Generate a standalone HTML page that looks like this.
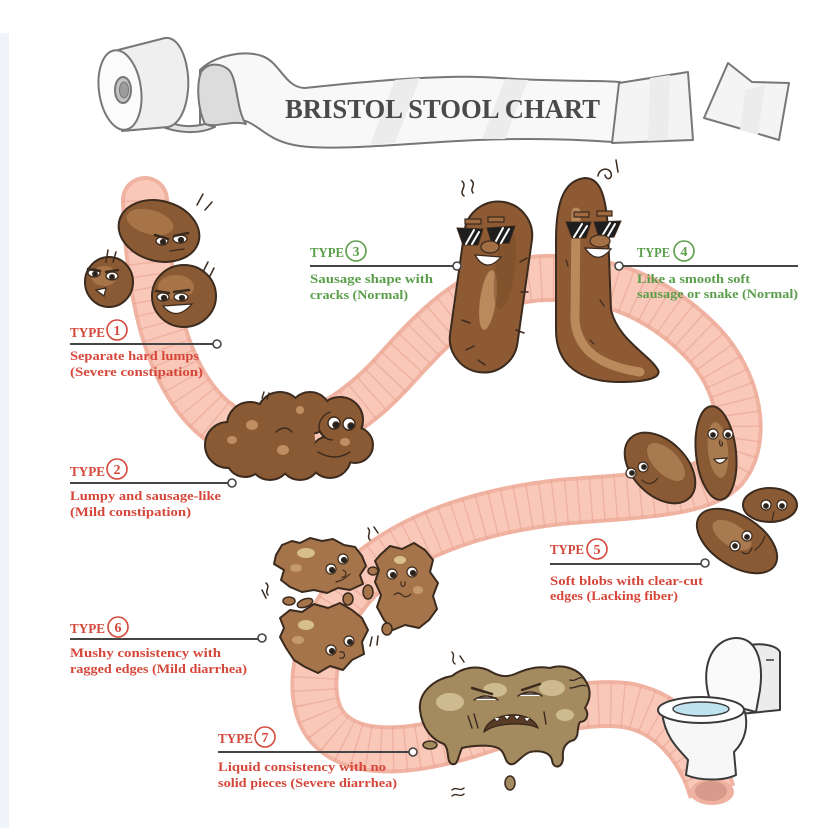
<!DOCTYPE html>
<html><head><meta charset="utf-8"><style>
html,body{margin:0;padding:0;background:#fff;}
svg{display:block}
</style></head><body>
<svg width="833" height="828" viewBox="0 0 833 828" xmlns="http://www.w3.org/2000/svg" font-family="'Liberation Serif', serif">
<rect width="833" height="828" fill="#fff"/>
<rect x="0" y="33" width="9" height="795" fill="#f1f4f8"/>

<!-- ===== BANNER ===== -->
<g stroke="#777" stroke-width="2" stroke-linejoin="round">
  <path d="M200,70 C215,55 245,50 262,56 C280,62 285,88 305,88 C380,80 450,74 500,78 C560,82 600,80 620,82 L613,142 C560,138 500,138 440,142 C380,146 330,150 300,146 C270,142 262,128 248,122 C235,116 222,128 200,125 Z" fill="#f8f8f8"/>
  <path d="M201,72 C207,63 220,62 229,70 C238,80 236,110 246,124 C232,120 216,128 205,124 C198,110 196,86 201,72 Z" fill="#dcdcdc"/>
  <path d="M160,126 C180,134 200,134 215,127 L205,124 C190,128 175,126 165,120 Z" fill="#e4e4e4"/>
  <path d="M118,50 L165,38 C182,36 190,68 188,90 C186,112 178,125 168,127 L122,131 Z" fill="#efefef"/>
  <ellipse cx="120" cy="90" rx="21" ry="40" transform="rotate(-8 120 90)" fill="#fbfbfb"/>
  <ellipse cx="123" cy="90" rx="8" ry="13" fill="#c4c4c4"/>
  <ellipse cx="124" cy="90" rx="4.5" ry="8" fill="#9c9c9c" stroke-width="1"/>
  <path d="M619,83 L688,72 L693,140 L612,143 Z" fill="#f4f4f4"/>
  <path d="M728,63 L752,82 L789,83 L779,140 L752,132 L704,118 Z" fill="#f4f4f4"/>
</g>
<g fill="#ececec">
  <path d="M395,80 L420,78 L395,143 L370,145 Z"/>
  <path d="M505,79 L528,80 L505,139 L482,139 Z"/>
  <path d="M650,78 L670,75 L668,140 L648,141 Z"/>
  <path d="M745,90 L765,85 L758,135 L740,130 Z"/>
</g>
<text x="285" y="118" font-size="27" font-weight="bold" fill="#4a4a4a" textLength="315" lengthAdjust="spacingAndGlyphs">BRISTOL STOOL CHART</text>

<!-- ===== INTESTINE TUBE ===== -->
<g fill="none">
  <circle cx="145" cy="200" r="24" fill="#f0b3a2"/>
  <path d="M145,200 C148,300 170,400 235,432 C290,455 350,420 395,370 C440,320 480,280 545,278 C610,276 660,300 700,340 C740,380 750,440 725,470 C700,495 640,495 560,502 C470,512 400,540 360,580 C315,625 300,700 330,730 C360,760 420,750 470,735 C530,715 580,700 625,705 C670,712 700,750 712,792" stroke="#f0b3a2" stroke-width="48"/>
  <circle cx="145" cy="200" r="20" fill="#f9c8b9"/>
  <path d="M145,200 C148,300 170,400 235,432 C290,455 350,420 395,370 C440,320 480,280 545,278 C610,276 660,300 700,340 C740,380 750,440 725,470 C700,495 640,495 560,502 C470,512 400,540 360,580 C315,625 300,700 330,730 C360,760 420,750 470,735 C530,715 580,700 625,705 C670,712 700,750 712,792" stroke="#f9c8b9" stroke-width="40"/>
  <path d="M145,200 C148,300 170,400 235,432 C290,455 350,420 395,370 C440,320 480,280 545,278 C610,276 660,300 700,340 C740,380 750,440 725,470 C700,495 640,495 560,502 C470,512 400,540 360,580 C315,625 300,700 330,730 C360,760 420,750 470,735 C530,715 580,700 625,705 C670,712 700,750 712,792" stroke="#e89f8c" stroke-width="46" stroke-dasharray="1.4 11" opacity="0.55"/>
  <ellipse cx="712" cy="792" rx="22" ry="13" fill="#efb2a1"/>
  <ellipse cx="711" cy="791" rx="16" ry="10" fill="#d89a8a"/>
</g>

<!-- ===== TYPE 1 ===== -->
<g stroke="#3b2a1e" stroke-width="2" stroke-linecap="round">
  <ellipse cx="159" cy="231" rx="41" ry="30" transform="rotate(15 159 231)" fill="#8a5a34"/>
  <ellipse cx="150" cy="222" rx="24" ry="12" transform="rotate(15 150 222)" fill="#a77447" stroke="none"/>
  <ellipse cx="109" cy="282" rx="24" ry="25" fill="#8a5a34"/>
  <ellipse cx="104" cy="276" rx="13" ry="10" fill="#a77447" stroke="none"/>
  <ellipse cx="184" cy="296" rx="32" ry="31" fill="#8a5a34"/>
  <ellipse cx="176" cy="287" rx="18" ry="12" fill="#a77447" stroke="none"/>
  <!-- faces -->
  <g stroke-width="1.3">
    <ellipse cx="162" cy="241" rx="6" ry="4" fill="#fff"/><circle cx="163" cy="242" r="2.5" fill="#222"/>
    <ellipse cx="180" cy="239" rx="7" ry="4" fill="#fff"/><circle cx="181" cy="240" r="2.5" fill="#222"/>
    <path d="M155,235 L168,239 M174,236 L188,233" stroke-width="2.5"/>
    <path d="M170,251 L184,249" fill="none"/>
    <ellipse cx="94" cy="273" rx="6" ry="4" fill="#fff"/><circle cx="95" cy="274" r="2.3" fill="#222"/>
    <ellipse cx="112" cy="276" rx="6" ry="4" fill="#fff"/><circle cx="112" cy="277" r="2.3" fill="#222"/>
    <path d="M88,269 L100,271 M106,272 L118,270" stroke-width="2.5"/>
    <path d="M96,290 L106,288 L104,296 Z" fill="#fff"/>
    <ellipse cx="163" cy="297" rx="6" ry="4" fill="#fff"/><circle cx="164" cy="298" r="2.5" fill="#222"/>
    <ellipse cx="181" cy="297" rx="7" ry="4" fill="#fff"/><circle cx="182" cy="298" r="2.5" fill="#222"/>
    <path d="M156,291 L169,293 M174,292 L189,290" stroke-width="2.5"/>
    <path d="M163,306 Q176,322 192,304 Z" fill="#fff"/>
  </g>
  <path d="M197,205 L203,194 M205,210 L212,202 M106,262 L108,250 M113,262 L116,252 M203,272 L208,262 M210,276 L214,268" fill="none" stroke-width="1.5"/>
</g>

<!-- ===== TYPE 2 ===== -->
<g>
  <g fill="#8a5a34" stroke="#3b2a1e" stroke-width="4">
    <circle cx="228" cy="445" r="22"/><circle cx="250" cy="425" r="22"/><circle cx="280" cy="415" r="22"/>
    <circle cx="310" cy="413" r="20"/><circle cx="340" cy="420" r="22"/><circle cx="355" cy="445" r="17"/>
    <circle cx="330" cy="457" r="20"/><circle cx="300" cy="459" r="20"/><circle cx="270" cy="459" r="20"/>
    <circle cx="245" cy="458" r="18"/>
  </g>
  <g fill="#8a5a34">
    <circle cx="228" cy="445" r="22"/><circle cx="250" cy="425" r="22"/><circle cx="280" cy="415" r="22"/>
    <circle cx="310" cy="413" r="20"/><circle cx="340" cy="420" r="22"/><circle cx="355" cy="445" r="17"/>
    <circle cx="330" cy="457" r="20"/><circle cx="300" cy="459" r="20"/><circle cx="270" cy="459" r="20"/>
    <circle cx="245" cy="458" r="18"/><circle cx="290" cy="440" r="25"/>
  </g>
  <g fill="#c08e62">
    <ellipse cx="252" cy="425" rx="6" ry="5"/><ellipse cx="232" cy="440" rx="5" ry="4"/><ellipse cx="283" cy="450" rx="6" ry="5"/>
    <ellipse cx="345" cy="442" rx="5" ry="4"/><ellipse cx="300" cy="410" rx="4" ry="4"/>
  </g>
  <g stroke="#3b2a1e" stroke-width="1.4" fill="none" stroke-linecap="round">
    <path d="M330,412 C315,418 315,438 332,440"/>
    <path d="M276,432 Q285,424 292,432"/>
    <path d="M318,452 Q335,462 350,452"/>
    <path d="M262,398 L264,392 M267,399 L269,393"/>
    <circle cx="334" cy="423" r="6" fill="#fff"/><circle cx="336" cy="425" r="3" fill="#222"/>
    <circle cx="349" cy="424" r="6" fill="#fff"/><circle cx="351" cy="426" r="3" fill="#222"/>
  </g>
</g>

<!-- ===== TYPE 3 ===== -->
<g stroke="#3b2a1e" stroke-width="2" stroke-linecap="round">
  <rect x="457" y="201" width="68" height="172" rx="34" transform="rotate(8 491 287)" fill="#8d5a33"/>
  <ellipse cx="488" cy="300" rx="8" ry="30" transform="rotate(8 488 300)" fill="#bb8a5c" stroke="none"/>
  <ellipse cx="505" cy="270" rx="10" ry="40" transform="rotate(8 505 270)" fill="#7a4c2a" stroke="none" opacity="0.5"/>
  <path d="M520,262 L527,258 M521,292 L528,292 M516,330 L524,333 M462,320 L470,323 M466,350 L474,346 M478,360 L485,365" fill="none" stroke-width="1.5"/>
  <path d="M465,219 h16 v5 h-16 Z M488,217 h16 v5 h-16 Z" fill="#a0693e" stroke-width="1.2"/>
  <path d="M457,228 L483,229 L478,245 L463,245 Z M487,228 L515,226 L509,243 L492,244 Z" fill="#1e1e1e" stroke-width="1"/>
  <path d="M466,244 L474,230 M472,244 L479,232 M495,243 L503,228 M501,243 L509,229" stroke="#fff" stroke-width="2"/>
  <ellipse cx="490" cy="247" rx="9" ry="6" fill="#a36f44" stroke-width="1.2"/>
  <path d="M475,255 Q486,274 501,257 Z" fill="#fff" stroke-width="1.3"/>
  <path d="M464,196 C458,191 468,187 462,181 M473,193 C469,188 477,185 471,180" fill="none" stroke-width="1.5"/>
</g>

<!-- ===== TYPE 4 ===== -->
<g stroke="#3b2a1e" stroke-width="2" stroke-linecap="round">
  <path d="M585,178 C565,180 556,200 556,240 L556,330 C556,365 580,382 620,382 C645,382 662,378 658,370 C650,355 618,340 611,310 L608,230 C606,195 600,178 585,178 Z" fill="#8d5a33"/>
  <path d="M576,212 L575,320 C577,350 600,366 640,372" fill="none" stroke="#bb8a5c" stroke-width="9"/>
  <path d="M574,212 h15 v5 h-15 Z M597,211 h15 v5 h-15 Z" fill="#a0693e" stroke-width="1.2"/>
  <path d="M566,222 L591,222 L586,238 L572,238 Z M594,222 L621,221 L614,237 L599,238 Z" fill="#1e1e1e" stroke-width="1"/>
  <path d="M574,237 L582,224 M580,237 L587,226 M602,236 L610,223 M608,236 L615,224" stroke="#fff" stroke-width="2"/>
  <ellipse cx="600" cy="241" rx="10" ry="6" fill="#a36f44" stroke-width="1.2"/>
  <path d="M585,248 Q597,266 611,249 Z" fill="#fff" stroke-width="1.3"/>
  <path d="M566,260 L568,266 M600,300 L604,306 M590,340 L594,344" fill="none" stroke-width="1.2"/>
  <path d="M598,176 C599,168 609,167 611,173 C613,179 606,181 605,175 M616,160 L618,172" fill="none" stroke-width="1.5"/>
</g>

<!-- ===== TYPE 5 ===== -->
<g stroke="#3b2a1e" stroke-width="2" stroke-linecap="round">
  <ellipse cx="660" cy="468" rx="42" ry="27" transform="rotate(45 660 468)" fill="#8a5a34"/>
  <ellipse cx="666" cy="462" rx="24" ry="12" transform="rotate(45 666 462)" fill="#a97a4f" stroke="none"/>
  <ellipse cx="716" cy="453" rx="20" ry="47" transform="rotate(-6 716 453)" fill="#8a5a34"/>
  <ellipse cx="718" cy="450" rx="10" ry="28" transform="rotate(-6 718 450)" fill="#a97a4f" stroke="none"/>
  <ellipse cx="770" cy="505" rx="27" ry="17" fill="#8a5a34"/>
  <ellipse cx="737" cy="541" rx="45" ry="25" transform="rotate(33 737 541)" fill="#8a5a34"/>
  <ellipse cx="732" cy="535" rx="22" ry="11" transform="rotate(33 732 535)" fill="#a97a4f" stroke="none"/>
  <g stroke-width="1.2">
    <circle cx="631" cy="473" r="5" fill="#fff"/><circle cx="632" cy="473" r="2.3" fill="#222"/>
    <circle cx="643" cy="467" r="5" fill="#fff"/><circle cx="644" cy="467" r="2.3" fill="#222"/>
    <path d="M642,480 Q650,488 658,478" fill="none"/>
    <circle cx="713" cy="434" r="5" fill="#fff"/><circle cx="713" cy="435" r="2.3" fill="#222"/>
    <circle cx="728" cy="434" r="5" fill="#fff"/><circle cx="728" cy="435" r="2.3" fill="#222"/>
    <path d="M720,440 C718,447 724,448 722,442" fill="none"/>
    <path d="M714,459 Q720,468 727,458 Z" fill="#fff"/>
    <circle cx="766" cy="505" r="5" fill="#fff"/><circle cx="766" cy="506" r="2.3" fill="#222"/>
    <circle cx="782" cy="505" r="5" fill="#fff"/><circle cx="782" cy="506" r="2.3" fill="#222"/>
    <path d="M774,512 L772,521" fill="none"/>
    <circle cx="735" cy="546" r="5" fill="#fff"/><circle cx="735" cy="546" r="2.3" fill="#222"/>
    <circle cx="747" cy="536" r="5" fill="#fff"/><circle cx="747" cy="537" r="2.3" fill="#222"/>
    <path d="M742,552 Q748,557 752,548 M755,550 Q762,545 765,536" fill="none"/>
  </g>
</g>

<!-- ===== TYPE 6 ===== -->
<g stroke="#3b2a1e" stroke-width="2" stroke-linejoin="round" stroke-linecap="round">
  <path d="M276,555 L282,545 L292,541 L300,543 L310,538 L322,541 L333,539 L344,545 L355,547 L362,556 L366,566 L360,575 L363,584 L350,590 L338,588 L327,593 L314,590 L302,592 L290,587 L281,580 L284,570 L274,564 Z" fill="#a5744a"/>
  <path d="M380,555 L390,546 L402,549 L414,543 L425,550 L433,560 L430,572 L438,583 L433,596 L437,609 L429,620 L419,628 L405,625 L393,630 L384,620 L377,607 L381,595 L375,582 L379,570 L375,561 Z" fill="#a5744a"/>
  <path d="M280,618 L290,610 L302,612 L314,604 L328,608 L340,603 L352,610 L362,618 L368,630 L362,642 L364,654 L352,660 L343,670 L330,666 L318,673 L305,667 L294,660 L286,648 L280,637 L284,628 Z" fill="#a5744a"/>
  <g stroke="none">
    <ellipse cx="306" cy="553" rx="9" ry="5" fill="#d6bf8c"/><ellipse cx="296" cy="568" rx="6" ry="4" fill="#c49a6c"/>
    <ellipse cx="400" cy="560" rx="6" ry="4" fill="#d6bf8c"/><ellipse cx="418" cy="590" rx="5" ry="4" fill="#c49a6c"/>
    <ellipse cx="306" cy="625" rx="8" ry="5" fill="#d6bf8c"/><ellipse cx="298" cy="640" rx="6" ry="4" fill="#c49a6c"/>
  </g>
  <g fill="#a5744a" stroke-width="1.5">
    <ellipse cx="289" cy="601" rx="6" ry="4"/><ellipse cx="305" cy="603" rx="8" ry="4" transform="rotate(-20 305 603)"/>
    <ellipse cx="348" cy="599" rx="5" ry="6"/><ellipse cx="368" cy="592" rx="5" ry="7"/>
    <ellipse cx="373" cy="571" rx="5" ry="4"/><ellipse cx="387" cy="629" rx="5" ry="6"/>
  </g>
  <g stroke-width="1.2">
    <circle cx="331" cy="569" r="5" fill="#fff"/><circle cx="332" cy="570" r="2.5" fill="#222"/>
    <circle cx="343" cy="559" r="5" fill="#fff"/><circle cx="344" cy="560" r="2.5" fill="#222"/>
    <path d="M343,570 C348,572 346,578 342,577 M336,582 Q344,580 350,574" fill="none"/>
    <circle cx="392" cy="574" r="5" fill="#fff"/><circle cx="393" cy="575" r="2.5" fill="#222"/>
    <circle cx="412" cy="572" r="5" fill="#fff"/><circle cx="413" cy="573" r="2.5" fill="#222"/>
    <path d="M401,582 C400,588 406,588 405,582 M394,595 Q398,591 402,595 Q406,599 411,594" fill="none"/>
    <circle cx="331" cy="650" r="5" fill="#fff"/><circle cx="332" cy="651" r="2.5" fill="#222"/>
    <circle cx="349" cy="641" r="5" fill="#fff"/><circle cx="350" cy="642" r="2.5" fill="#222"/>
    <path d="M340,652 C346,650 346,660 340,658" fill="none"/>
  </g>
  <path d="M368,528 C372,532 366,536 370,540 M374,527 L378,533 M266,583 C271,587 264,591 268,595 M262,590 L266,598 M372,637 L370,646 M378,636 L377,645" fill="none" stroke-width="1.5"/>
</g>

<!-- ===== TYPE 7 ===== -->
<g stroke="#3b2a1e" stroke-width="2" stroke-linejoin="round" stroke-linecap="round">
  <path d="M420,710 C418,690 438,678 452,676 C462,668 475,665 488,670 C498,676 505,678 515,674 C528,668 540,666 550,668 C562,664 578,668 585,680 C592,690 590,700 585,708 C590,715 586,722 580,722 C576,728 580,735 574,740 C566,742 562,748 563,758 C563,768 553,770 552,760 C550,752 540,750 530,752 C520,756 516,766 510,764 C504,762 506,752 498,748 C488,744 470,746 462,748 C458,756 458,766 452,764 C446,762 450,750 444,744 C432,740 422,728 420,710 Z" fill="#a38b5f"/>
  <g fill="#cdbb8f" stroke="none">
    <ellipse cx="450" cy="702" rx="14" ry="9"/><ellipse cx="495" cy="690" rx="12" ry="7"/>
    <ellipse cx="552" cy="688" rx="13" ry="8"/><ellipse cx="565" cy="715" rx="9" ry="6"/>
  </g>
  <g fill="#a38b5f" stroke-width="1.5">
    <ellipse cx="430" cy="745" rx="7" ry="4"/><ellipse cx="510" cy="783" rx="5" ry="7"/>
  </g>
  <g stroke-width="1.4">
    <path d="M474,700 Q486,692 498,700" fill="#fff"/><path d="M478,698 h18" fill="none"/>
    <path d="M518,696 Q530,688 542,696" fill="#fff"/><path d="M521,694 h18" fill="none"/>
    <path d="M472,688 L492,694 M522,690 L540,684" fill="none" stroke-width="2.5"/>
    <path d="M484,732 C488,712 530,708 538,728 C528,722 496,722 484,732 Z" fill="#5a3b26"/>
    <path d="M494,718 l3,4 l3,-4 M504,716 l3,4 l3,-4 M514,716 l3,4 l3,-4 M524,718 l3,4 l3,-4" fill="#fff" stroke-width="1"/>
    <path d="M468,716 L472,728 M474,714 L478,728 M544,712 L546,724" fill="none"/>
  </g>
  <path d="M452,652 C456,656 450,660 455,664 M460,656 L464,662 M570,680 C576,682 578,676 584,678 M570,688 C576,688 580,684 586,686 M452,790 C456,786 460,792 464,788 M452,796 C456,792 460,798 464,794" fill="none" stroke-width="1.4"/>
</g>

<!-- ===== TOILET ===== -->
<g stroke="#3a3a3a" stroke-width="2" stroke-linejoin="round">
  <path d="M738,650 C745,642 775,642 780,652 L780,710 L740,714 Z" fill="#ececec"/>
  <path d="M710,700 C700,670 710,640 735,638 C756,637 764,660 760,690 L756,712 Z" fill="#fafafa"/>
  <path d="M662,712 C665,740 682,752 688,760 L686,775 C700,781 724,781 736,775 L734,752 C746,740 748,725 745,712 Z" fill="#f7f7f7"/>
  <ellipse cx="701" cy="710" rx="43" ry="13" fill="#fff"/>
  <ellipse cx="701" cy="709" rx="28" ry="7" fill="#bfe3f0" stroke-width="1.4"/>
  <path d="M766,660 h8" stroke-width="1.5"/>
</g>

<!-- ===== LABELS ===== -->
<g font-weight="bold">
  <!-- Type 1 -->
  <g fill="#d5473a">
    <text x="70" y="337" font-size="13.5" textLength="35" lengthAdjust="spacingAndGlyphs">TYPE</text>
    <circle cx="117" cy="330" r="10" fill="none" stroke="#d5473a" stroke-width="1.6"/>
    <text x="117" y="335" font-size="14" text-anchor="middle">1</text>
    <text x="70" y="360" font-size="13" textLength="129" lengthAdjust="spacingAndGlyphs">Separate hard lumps</text>
    <text x="70" y="376" font-size="13" textLength="133" lengthAdjust="spacingAndGlyphs">(Severe constipation)</text>
  </g>
  <!-- Type 2 -->
  <g fill="#d5473a">
    <text x="70" y="476" font-size="13.5" textLength="35" lengthAdjust="spacingAndGlyphs">TYPE</text>
    <circle cx="117" cy="469" r="10" fill="none" stroke="#d5473a" stroke-width="1.6"/>
    <text x="117" y="474" font-size="14" text-anchor="middle">2</text>
    <text x="70" y="500" font-size="13" textLength="151" lengthAdjust="spacingAndGlyphs">Lumpy and sausage-like</text>
    <text x="70" y="516" font-size="13" textLength="121" lengthAdjust="spacingAndGlyphs">(Mild constipation)</text>
  </g>
  <!-- Type 3 -->
  <g fill="#5a9e4b">
    <text x="310" y="257" font-size="13.5" textLength="34" lengthAdjust="spacingAndGlyphs">TYPE</text>
    <circle cx="356" cy="251" r="10" fill="none" stroke="#5a9e4b" stroke-width="1.6"/>
    <text x="356" y="256" font-size="14" text-anchor="middle">3</text>
    <text x="310" y="283" font-size="13" textLength="123" lengthAdjust="spacingAndGlyphs">Sausage shape with</text>
    <text x="310" y="299" font-size="13" textLength="98" lengthAdjust="spacingAndGlyphs">cracks (Normal)</text>
  </g>
  <!-- Type 4 -->
  <g fill="#5a9e4b">
    <text x="637" y="257" font-size="13.5" textLength="33" lengthAdjust="spacingAndGlyphs">TYPE</text>
    <circle cx="684" cy="251" r="10" fill="none" stroke="#5a9e4b" stroke-width="1.6"/>
    <text x="684" y="256" font-size="14" text-anchor="middle">4</text>
    <text x="637" y="283" font-size="13" textLength="113" lengthAdjust="spacingAndGlyphs">Like a smooth soft</text>
    <text x="637" y="298" font-size="13" textLength="161" lengthAdjust="spacingAndGlyphs">sausage or snake (Normal)</text>
  </g>
  <!-- Type 5 -->
  <g fill="#d5473a">
    <text x="550" y="554" font-size="13.5" textLength="34" lengthAdjust="spacingAndGlyphs">TYPE</text>
    <circle cx="597" cy="549" r="10" fill="none" stroke="#d5473a" stroke-width="1.6"/>
    <text x="597" y="554" font-size="14" text-anchor="middle">5</text>
    <text x="550" y="585" font-size="13" textLength="153" lengthAdjust="spacingAndGlyphs">Soft blobs with clear-cut</text>
    <text x="550" y="600" font-size="13" textLength="128" lengthAdjust="spacingAndGlyphs">edges (Lacking fiber)</text>
  </g>
  <!-- Type 6 -->
  <g fill="#d5473a">
    <text x="70" y="633" font-size="13.5" textLength="35" lengthAdjust="spacingAndGlyphs">TYPE</text>
    <circle cx="118" cy="627" r="10" fill="none" stroke="#d5473a" stroke-width="1.6"/>
    <text x="118" y="632" font-size="14" text-anchor="middle">6</text>
    <text x="70" y="657" font-size="13" textLength="151" lengthAdjust="spacingAndGlyphs">Mushy consistency with</text>
    <text x="70" y="673" font-size="13" textLength="177" lengthAdjust="spacingAndGlyphs">ragged edges (Mild diarrhea)</text>
  </g>
  <!-- Type 7 -->
  <g fill="#d5473a">
    <text x="218" y="743" font-size="13.5" textLength="35" lengthAdjust="spacingAndGlyphs">TYPE</text>
    <circle cx="265" cy="737" r="10" fill="none" stroke="#d5473a" stroke-width="1.6"/>
    <text x="265" y="742" font-size="14" text-anchor="middle">7</text>
    <text x="218" y="771" font-size="13" textLength="168" lengthAdjust="spacingAndGlyphs">Liquid consistency with no</text>
    <text x="218" y="787" font-size="13" textLength="179" lengthAdjust="spacingAndGlyphs">solid pieces (Severe diarrhea)</text>
  </g>
</g>
<g stroke="#454545" stroke-width="2" fill="#fff">
  <line x1="70" y1="344" x2="213" y2="344"/><circle cx="217" cy="344" r="4" stroke-width="1.6"/>
  <line x1="70" y1="483" x2="228" y2="483"/><circle cx="232" cy="483" r="4" stroke-width="1.6"/>
  <line x1="310" y1="266" x2="453" y2="266"/><circle cx="457" cy="266" r="4" stroke-width="1.6"/>
  <line x1="623" y1="266" x2="798" y2="266"/><circle cx="619" cy="266" r="4" stroke-width="1.6"/>
  <line x1="550" y1="564" x2="701" y2="564"/><circle cx="705" cy="563" r="4" stroke-width="1.6"/>
  <line x1="70" y1="639" x2="258" y2="639"/><circle cx="262" cy="638" r="4" stroke-width="1.6"/>
  <line x1="218" y1="752" x2="409" y2="752"/><circle cx="413" cy="752" r="4" stroke-width="1.6"/>
</g>
</svg>
</body></html>
